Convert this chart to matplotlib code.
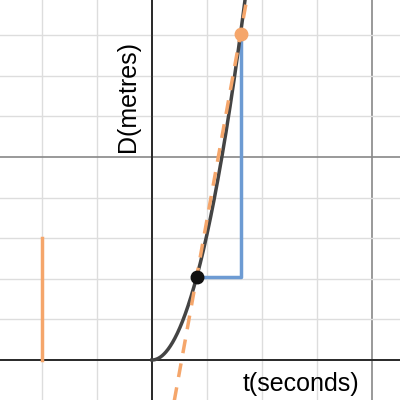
import numpy as np
import matplotlib
matplotlib.use('Agg')
import matplotlib.pyplot as plt

# D = a * t^2
a = 3.1
t_p = 0.81   # black point
t_q = 1.61   # orange point
bar_x = -2
bar_h = 3

fig = plt.figure(figsize=(4, 4), dpi=100)
ax = fig.add_axes([0, 0, 1, 1])
ax.set_xlim(-152/55, 248/55)
ax.set_ylim(-40/40.6, 360/40.6)
ax.axis('off')

# grid
for x in range(-2, 5):
    major = x % 4 == 0
    ax.axvline(x, color='#888' if major else '#ddd', lw=1.2 if major else 1, zorder=0)
for y in range(0, 9):
    major = y % 5 == 0
    ax.axhline(y, color='#888' if major else '#ddd', lw=1.2 if major else 1, zorder=0)
ax.axhline(0, color='#222', lw=1.3, zorder=1)
ax.axvline(0, color='#222', lw=1.3, zorder=1)

t = np.linspace(0, 2, 300)
ax.plot(t, a*t**2, color='#444', lw=2.5, zorder=3)

yp, yq = a*t_p**2, a*t_q**2
m = (yq - yp) / (t_q - t_p)
xs = np.array([-1, 3])
ax.plot(xs, yp + m*(xs - t_p), color='#f5a66b', lw=2.5, ls=(0, (4, 3)), zorder=4)

ax.plot([t_p, t_q, t_q], [yp, yp, yq], color='#6d9bd3', lw=2.5, zorder=2)
ax.plot([bar_x, bar_x], [0, bar_h], color='#f5a66b', lw=2.5, zorder=2)
ax.plot(t_p, yp, 'o', color='#111', ms=9, zorder=5)
ax.plot(t_q, yq, 'o', color='#f5a66b', ms=9, zorder=5)

ax.text(-0.44, 6.5, 'D(metres)', rotation=90, ha='center', va='center', fontsize=18, family='Liberation Sans')
ax.text(2.7, -0.6, 't(seconds)', ha='center', va='center', fontsize=18, family='Liberation Sans')

fig.savefig('out.png')
